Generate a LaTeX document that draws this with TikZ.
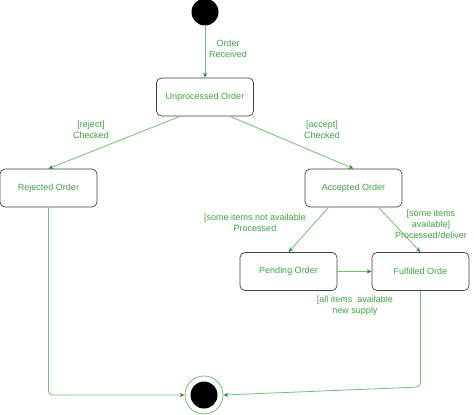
\documentclass[tikz,border=0pt]{standalone}
\usepackage{fontspec}
\setmainfont{Liberation Sans}
\usetikzlibrary{arrows.meta,positioning}
\definecolor{stategreen}{RGB}{60,165,60}
\definecolor{flowgreen}{RGB}{110,195,110}
\definecolor{tipgreen}{RGB}{40,140,40}

\begin{document}
\begin{tikzpicture}[
  x=1pt,y=-1pt,
  font=\fontsize{9}{11}\selectfont,
  state/.style={draw=black!75,rounded corners=5pt,minimum width=97pt,
                minimum height=38pt,text=stategreen,line width=0.7pt},
  dot/.style={circle,fill=black,minimum size=27pt,inner sep=0pt},
  lbl/.style={text=stategreen,align=center,inner sep=0pt},
  ar/.style={-{Stealth[length=5pt,width=4pt,color=tipgreen]},draw=flowgreen,line width=0.8pt}]
\clip (0,0) rectangle (474,415);
\node[dot] (init) at (205,12) {};
\node[state] (unproc) at (205,97) {Unprocessed Order};
\node[state] (rej) at (48.5,188) {Rejected Order};
\node[state] (acc) at (353.5,188) {Accepted Order};
\node[state] (pend) at (288.5,271.5) {Pending Order};
\node[state] (ful) at (420.5,271.5) {Fulfilled Orde};
\node[circle,draw=flowgreen,minimum size=38pt,inner sep=0pt,line width=0.8pt] (final) at (204,395) {};
\node[dot] (finaldot) at (final) {};
\coordinate (bend) at (420.5,387);
% transitions
\draw[ar] (init) -- (unproc);
\draw[ar] ([xshift=-25pt]unproc.south) -- (rej.north);
\draw[ar] ([xshift=25pt]unproc.south) -- (acc.north);
\draw[ar] ([xshift=-25pt]acc.south) -- (pend.north);
\draw[ar] ([xshift=25pt]acc.south) -- (ful.north);
\draw[ar] (pend) -- (ful);
\draw[ar,rounded corners=4pt] (rej.south) |- (final.west);
\draw[ar,rounded corners=4pt] (ful.south) -- (bend) -- (final.east);
% guards
\node[lbl] (lrecv) at (228,49) {Order\\Received};
\node[lbl] (lrej) at (91,130) {[reject]\\Checked};
\node[lbl] (lacc) at (322,130) {[accept]\\Checked};
\node[lbl] (lpend) at (255,223) {[some items not available\\Processed};
\node[lbl] (lful) at (431,224) {[some items\\available]\\Processed/deliver};
\node[lbl] (lsup) at (355,306) {[all items\ \ available\\new supply};
\end{tikzpicture}
\end{document}
